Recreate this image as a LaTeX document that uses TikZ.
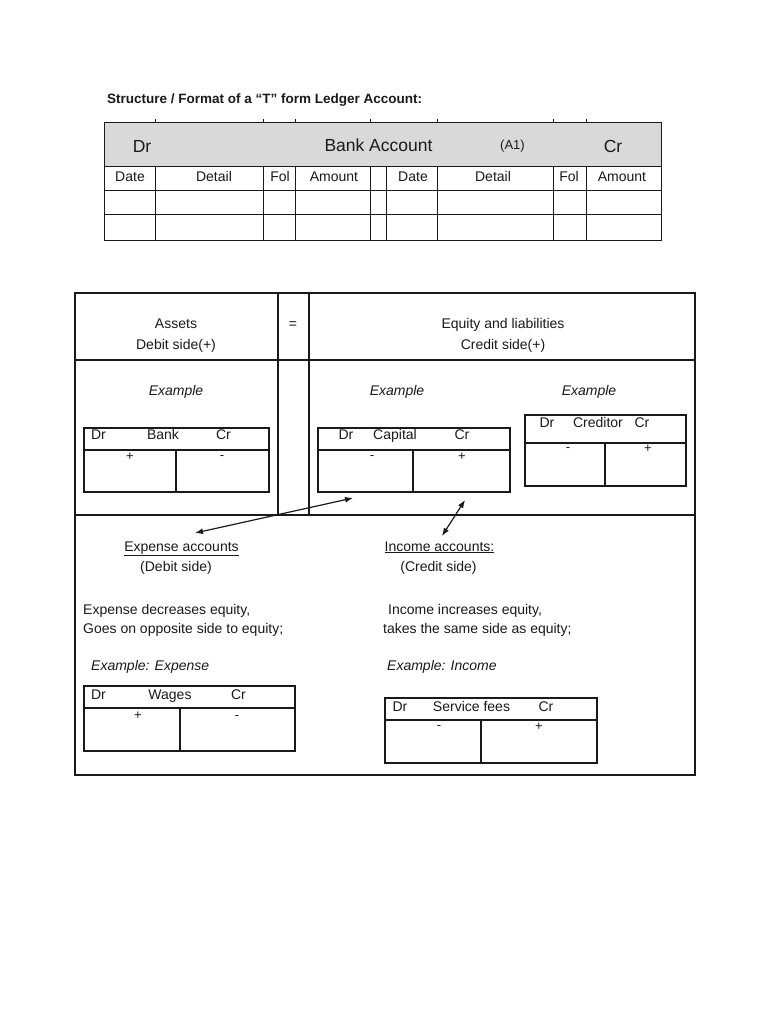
\documentclass[tikz,border=0pt]{standalone}
\usepackage{fontspec}
\setmainfont{Liberation Sans}
\usetikzlibrary{arrows.meta}
\definecolor{hdrgray}{HTML}{D9D9D9}
\definecolor{ink}{HTML}{1A1A1A}
\begin{document}
\begin{tikzpicture}[x=1pt,y=-1pt,
  txt/.style={inner sep=0pt, anchor=base, text=ink, font=\fontsize{14}{16}\selectfont},
  txtl/.style={txt, anchor=base west},
  sym/.style={inner sep=0pt, anchor=center, text=ink, font=\fontsize{13}{15}\selectfont},
  big/.style={txt, font=\fontsize{17.5}{19}\selectfont},
  ital/.style={txt, font=\itshape\fontsize{14}{16}\selectfont},
  tline/.style={draw=ink, line width=1pt},
  frame/.style={draw=ink, line width=2pt},
  inner/.style={draw=ink, line width=1.5pt},
  tacc/.style={draw=ink, line width=1.3pt},
  dblarrow/.style={draw=ink, line width=1.2pt, {Latex[length=8pt,width=6pt]}-{Latex[length=8pt,width=6pt]}}
]
\useasboundingbox (0,0) rectangle (768,1024);
\fill[white] (0,0) rectangle (768,1024);

% ---------- title ----------
\node[txtl, font=\bfseries\fontsize{13.5}{16}\selectfont] (title) at (107,104) {Structure / Format of a “T” form Ledger Account:};

% ---------- top ledger table ----------
\fill[hdrgray] (104,123) rectangle (661,167);
\draw[tline] (104,123) rectangle (661,240);
\foreach \yy in {167,191,215} \draw[tline] (104,\yy) -- (661,\yy);
\foreach \xx in {155,263,295,370,386,437,553,586} \draw[tline] (\xx,167) -- (\xx,240);
\foreach \xx in {155,263,295,370,437,553,586} \draw[tline] (\xx,119) -- (\xx,123);

\node[big] (hdr) at (142,153) {Dr};
\node[big] (hbank) at (378.5,152) {Bank Account};
\node[txt, font=\fontsize{13}{15}\selectfont] (ha1) at (512.5,150) {(A1)};
\node[big] (hcr) at (613,153) {Cr};

\node[txt] (c1) at (130,182) {Date};
\node[txt] (c2) at (214,182) {Detail};
\node[txt] (c3) at (280,182) {Fol};
\node[txt] (c4) at (334,182) {Amount};
\node[txt] (c5) at (413,182) {Date};
\node[txt] (c6) at (493,182) {Detail};
\node[txt] (c7) at (569,182) {Fol};
\node[txt] (c8) at (622,182) {Amount};

% ---------- lower frame ----------
\draw[frame] (75,293) rectangle (695,775);
\draw[inner] (75,360) -- (695,360);
\draw[inner] (75,515) -- (695,515);
\draw[inner] (278,293) -- (278,515);
\draw[inner] (309,293) -- (309,515);

\node[txt] (assets) at (176,328) {Assets};
\node[txt] (debit) at (176,349) {Debit side(+)};
\node[txt] (eq) at (293,328) {=};
\node[txt] (equity) at (503,328) {Equity and liabilities};
\node[txt] (credit) at (503,349) {Credit side(+)};

\node[ital] (ex1) at (176,395) {Example};
\node[ital] (ex2) at (397,395) {Example};
\node[ital] (ex3) at (589,395) {Example};

% Bank T-account
\draw[tacc] (84,428) rectangle (269,492);
\draw[tacc] (84,450) -- (269,450);
\draw[tacc] (176,450) -- (176,492);
\node[txt] (bdr) at (98.5,439) {Dr};
\node[txt] (bname) at (163,439) {Bank};
\node[txt] (bcr) at (223.5,439) {Cr};
\node[sym] (bplus) at (130,457) {+};
\node[sym] (bminus) at (222,458) {-};

% Capital T-account
\draw[tacc] (318,428) rectangle (510,492);
\draw[tacc] (318,450) -- (510,450);
\draw[tacc] (413,450) -- (413,492);
\node[txt] (cdr) at (346,439) {Dr};
\node[txt] (cname) at (395,439) {Capital};
\node[txt] (ccr) at (462,439) {Cr};
\node[sym] (cminus) at (372,458) {-};
\node[sym] (cplus) at (462,457) {+};

% Creditor T-account
\draw[tacc] (525,415) rectangle (686,486);
\draw[tacc] (525,443) -- (686,443);
\draw[tacc] (605,443) -- (605,486);
\node[txt] (rdr) at (547,427) {Dr};
\node[txt] (rname) at (598,427) {Creditor};
\node[txt] (rcr) at (642,427) {Cr};
\node[sym] (rminus) at (568,450) {-};
\node[sym] (rplus) at (648,449) {+};

% Arrows
\coordinate (expA) at (195,533);
\coordinate (capA) at (353,498);
\coordinate (incA) at (442,536);
\coordinate (capB) at (465,500);
\draw[dblarrow] (expA) -- (capA);
\draw[dblarrow] (incA) -- (capB);

% Lower texts
\node[txt] (expacc) at (181.5,551) {\underline{Expense accounts}};
\node[txt] (debside) at (176,571) {(Debit side)};
\node[txt] (incacc) at (439.5,551) {\underline{Income accounts:}};
\node[txt] (credside) at (438.5,571) {(Credit side)};

\node[txtl] (e1) at (83,614) {Expense decreases equity,};
\node[txtl] (e2) at (83,633) {Goes on opposite side to equity;};
\node[txtl] (i1) at (388,614) {Income increases equity,};
\node[txtl] (i2) at (383,633) {takes the same side as equity;};

\node[ital, anchor=base west] (exexp) at (91,670) {Example: Expense};
\node[ital, anchor=base west] (exinc) at (387,670) {Example: Income};

% Wages T-account
\draw[tacc] (84,686) rectangle (295,751);
\draw[tacc] (84,708) -- (295,708);
\draw[tacc] (180,708) -- (180,751);
\node[txt] (wdr) at (98.5,699) {Dr};
\node[txt] (wname) at (170,699) {Wages};
\node[txt] (wcr) at (238.5,699) {Cr};
\node[sym] (wplus) at (138,716) {+};
\node[sym] (wminus) at (237,718) {-};

% Service fees T-account
\draw[tacc] (385,698) rectangle (597,763);
\draw[tacc] (385,720) -- (597,720);
\draw[tacc] (481,720) -- (481,763);
\node[txt] (sdr) at (400,711) {Dr};
\node[txt] (sname) at (471.5,711) {Service fees};
\node[txt] (scr) at (546,711) {Cr};
\node[sym] (sminus) at (439,728) {-};
\node[sym] (splus) at (539,727) {+};
\end{tikzpicture}
\end{document}
